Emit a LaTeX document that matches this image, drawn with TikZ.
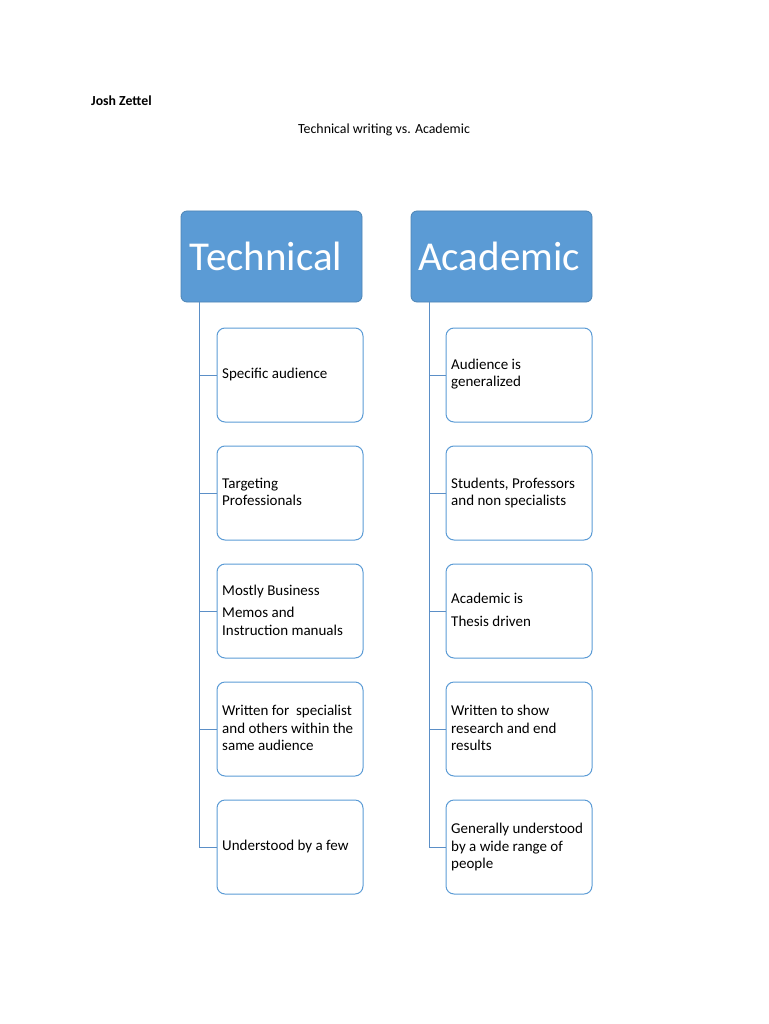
\documentclass[tikz,border=0pt]{standalone}
\usepackage{fontspec}
\setmainfont{Carlito}
\definecolor{hdr}{HTML}{5B9BD5}
\definecolor{edge}{HTML}{5B8FC7}
\begin{document}
\begin{tikzpicture}[x=1pt,y=-1pt,
  hbox/.style={fill=hdr,draw=hdr!85!black,line width=0.8pt,rounded corners=6pt,minimum width=181pt,minimum height=91pt,inner sep=0pt},
  htext/.style={text=white,font=\fontsize{41}{44}\selectfont,inner sep=0pt},
  cbox/.style={draw=hdr,line width=1pt,rounded corners=8pt,minimum width=146pt,minimum height=94pt,inner sep=0pt},
  ctext/.style={anchor=west,align=left,font=\fontsize{15}{17.5}\selectfont,inner sep=0pt},
  link/.style={draw=edge,line width=1pt}]
\useasboundingbox (0,0) rectangle (768,1024);
\node[anchor=west,font=\bfseries\fontsize{13.8}{16}\selectfont,inner sep=0pt] (name) at (91,101) {Josh Zettel};
\node[font=\fontsize{13.9}{16}\selectfont,inner sep=0pt] (title) at (384,130) {Technical writing vs. Academic};
\node[hbox] (T) at (271.5,256.5) {};
\node[hbox] (A) at (501.5,256.5) {};
\node[htext] (Tt) at (266,256.5) {Technical};
\node[htext] (At) at (499,256.5) {Academic};
\foreach \i/\y in {1/375,2/493,3/611,4/729,5/847}{
  \node[cbox] (t\i) at (290,\y) {};
  \node[cbox] (a\i) at (519,\y) {};
}
\coordinate (tl) at (199,302); \coordinate (al) at (429,302);
\draw[link] (tl) |- (t5.west);
\draw[link] (al) |- (a5.west);
\foreach \i in {1,2,3,4}{
  \draw[link] (tl |- t\i.west) -- (t\i.west);
  \draw[link] (al |- a\i.west) -- (a\i.west);
}
\node[ctext] (tt1) at (222,374) {Specific audience};
\node[ctext] (tt2) at (222,492) {Targeting\\Professionals};
\node[ctext] (tt3) at (222,610) {Mostly Business\\[5pt]Memos and\\Instruction manuals};
\node[ctext] (tt4) at (222,728) {Written for~ specialist\\and others within the\\same audience};
\node[ctext] (tt5) at (222,846) {Understood by a few};
\node[ctext] (at1) at (451,374) {Audience is\\generalized};
\node[ctext] (at2) at (451,493) {Students, Professors\\and non specialists};
\node[ctext] (at3) at (451,610) {Academic is\\[5pt]Thesis driven};
\node[ctext] (at4) at (451,728) {Written to show\\research and end\\results};
\node[ctext] (at5) at (451,847) {Generally understood\\by a wide range of\\people};
\end{tikzpicture}
\end{document}
